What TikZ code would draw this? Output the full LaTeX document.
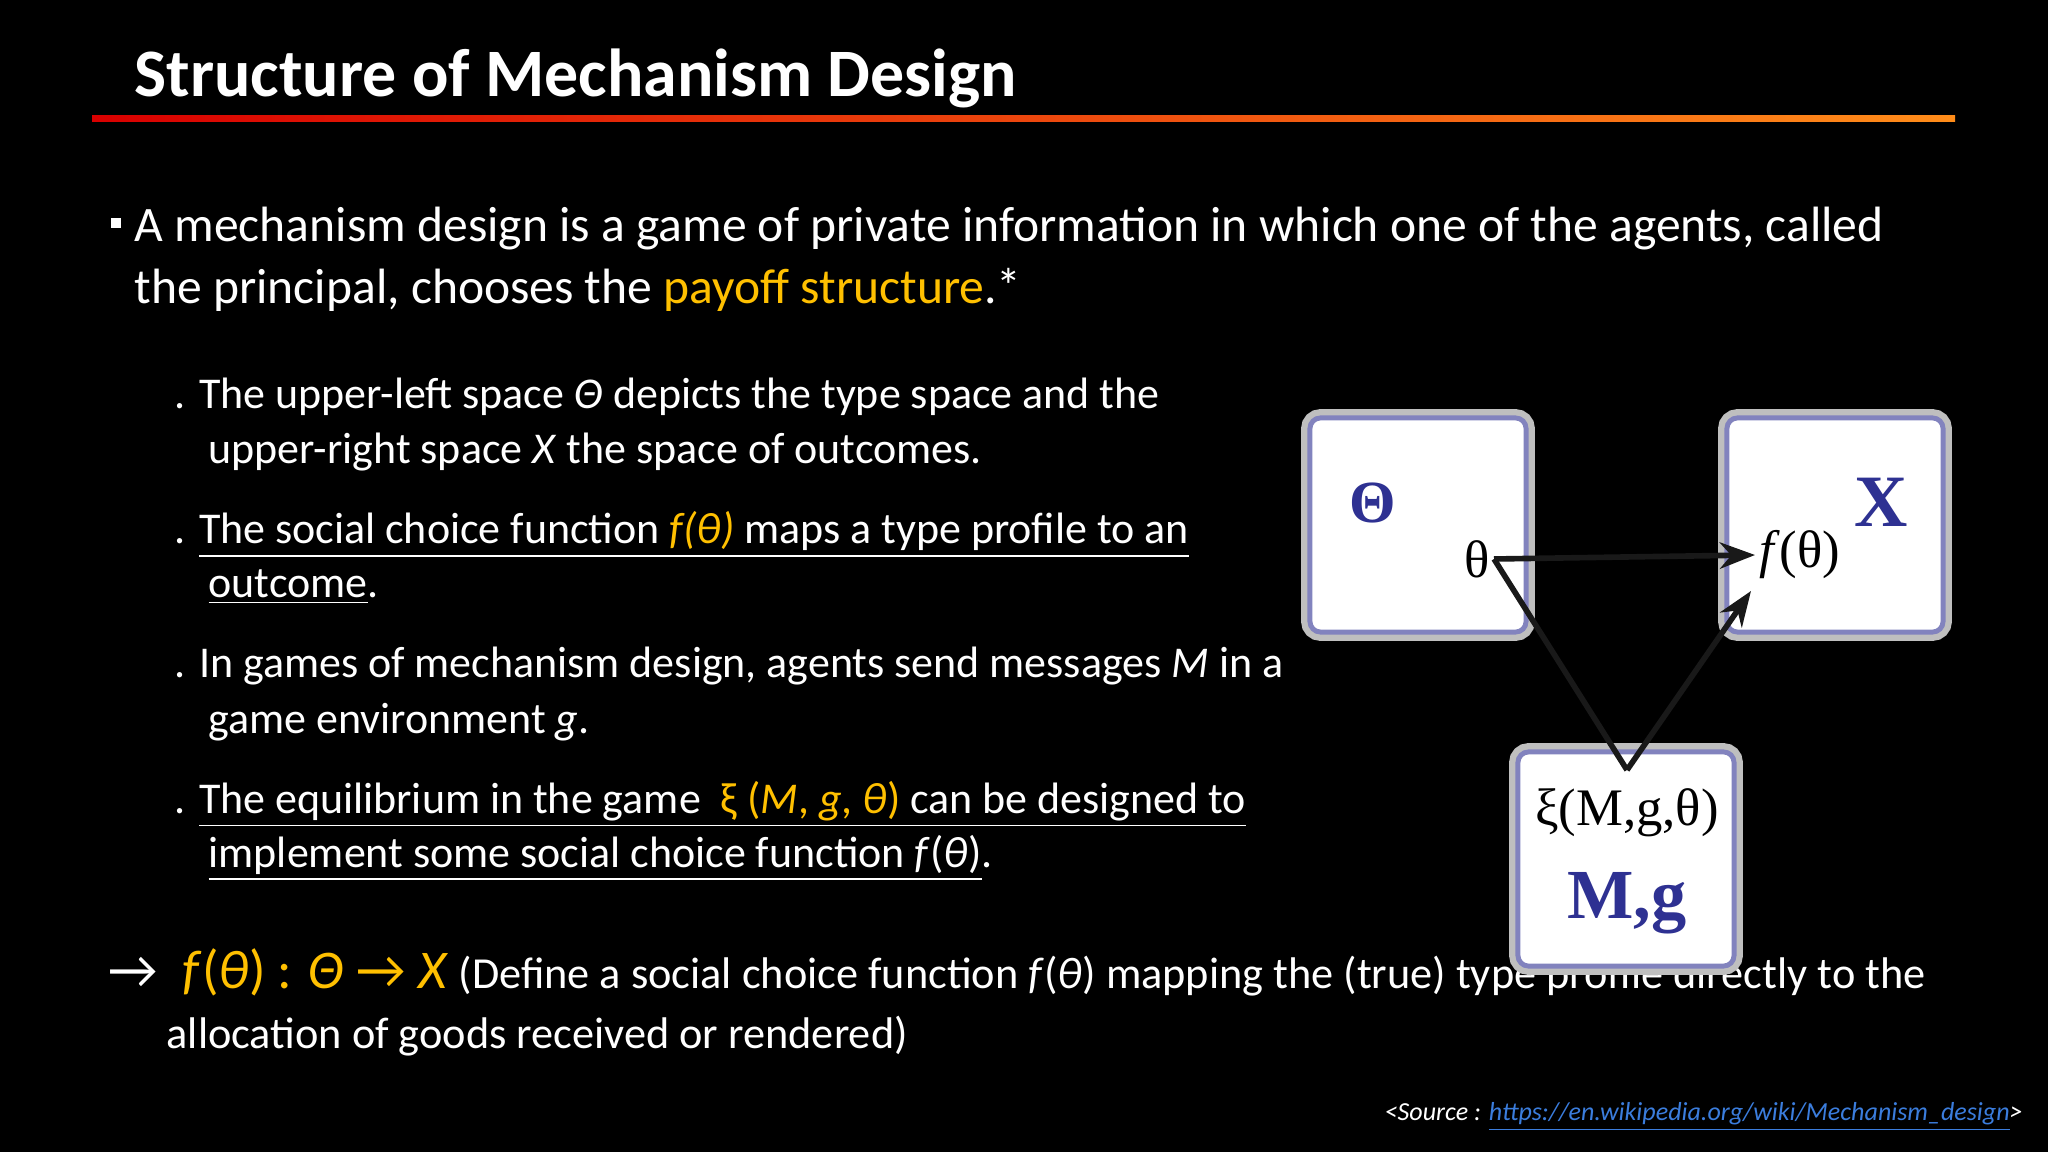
\documentclass[tikz,border=0pt]{standalone}
\usepackage{fontspec}
\setmainfont{Carlito}
\newfontfamily\diagfont{Liberation Serif}
\usetikzlibrary{arrows.meta}
\definecolor{gold}{HTML}{FFC000}
\definecolor{boxblue}{HTML}{2E3192}
\definecolor{linkblue}{HTML}{3B7DDD}
\tikzset{
  line/.style={anchor=base west, text=white, inner sep=0pt, font=\fontsize{12.5}{14}\selectfont},
  spacebox/.style={draw=boxblue!60, line width=1.4pt, fill=white, rounded corners=3pt,
    minimum width=2.16cm, minimum height=2.14cm,
    preaction={draw=gray!50, line width=5pt, rounded corners=4pt}},
  maplink/.style={draw=gray!20!black, line width=1.6pt},
}
\newcommand{\gold}[1]{\textcolor{gold}{#1}}
\begin{document}
\begin{tikzpicture}[x=0.01cm,y=-0.01cm]
  \useasboundingbox[fill=black] (0,0) rectangle (2048,1152);
  % title
  \node (title) [line, font=\fontsize{19.3}{22}\selectfont\bfseries] at (134,97) {Structure of Mechanism Design};
  \shade[left color=red!85!black, right color=orange!90] (92,116) rectangle (1955,122);
  % main bullet
  \fill[white] (111,218) rectangle (121,228);
  \node (b1) [line, font=\fontsize{14.1}{16}\selectfont] at (134,242) {A mechanism design is a game of private information in which one of the agents, called};
  \node (b2) [line, font=\fontsize{14.1}{16}\selectfont] at (134,304) {the principal, chooses the \gold{payoff structure}.*};
  % sub items
  \node (s1a) [line] at (174,409) {. The upper-left space \textit{Θ} depicts the type space and the};
  \node (s1b) [line] at (208,464) {upper-right space \textit{X} the space of outcomes.};
  \node (s2a) [line] at (174,544) {. \underline{The social choice function \gold{\textit{f(θ)}} maps a type profile to an}};
  \node (s2b) [line] at (208,597) {\underline{outcome}.};
  \node (s3a) [line] at (174,677) {. In games of mechanism design, agents send messages \textit{M} in a};
  \node (s3b) [line] at (208,733) {game environment \textit{g}.};
  \node (s4a) [line] at (174,813) {. \underline{The equilibrium in the game \ \gold{ξ (\textit{M}, \textit{g}, \textit{θ})} can be designed to}};
  \node (s4b) [line] at (208,867) {\underline{implement some social choice function \textit{f}(\textit{θ})}.};
  % conclusion
  \node (con1) [line, font=\fontsize{12.6}{15}\selectfont] at (108,988)
    {{\fontsize{15.5}{18}\selectfont → \ \gold{\textit{f}(\textit{θ}) : \textit{Θ} → \textit{X}}} (Define a social choice function \textit{f}(\textit{θ}) mapping the (true) type profile directly to the};
  \node (con2) [line, font=\fontsize{12.6}{15}\selectfont] at (166,1048) {allocation of goods received or rendered)};
  \node (src) [line, font=\fontsize{7.4}{9}\selectfont\itshape] at (1384,1120)
    {<Source : \textcolor{linkblue}{\underline{https://en.wikipedia.org/wiki/Mechanism\_design}}>};
  % diagram
  \node (theta) [spacebox] at (1418,525) {};
  \node (outc) [spacebox] at (1835,525) {};
  \node (game) [spacebox] at (1626,859) {};
  \node [font=\diagfont\bfseries\fontsize{17}{19}\selectfont, text=boxblue] at (1373,503) {Θ};
  \node [font=\diagfont\bfseries\fontsize{21}{23}\selectfont, text=boxblue] at (1881,502) {X};
  \node (th) [font=\diagfont\fontsize{15}{17}\selectfont, anchor=east, inner sep=1pt] at (1494,559) {θ};
  \node (fth) [font=\diagfont\fontsize{15}{17}\selectfont, anchor=west, inner sep=1pt] at (1755,555) {\textit{f}(θ)};
  \node (xi) [font=\diagfont\fontsize{15}{17}\selectfont] at (1627,813) {ξ(M,g,θ)};
  \node (mg) [font=\diagfont\bfseries\fontsize{20}{22}\selectfont, text=boxblue] at (1627,903) {M,g};
  \coordinate (vtx) at (1627,770);
  \draw[maplink, -{Stealth[length=10pt]}] (th.east) -- (fth.west);
  \draw[maplink] (th.east) -- (vtx);
  \draw[maplink, -{Stealth[length=10pt]}] (vtx) -- (1751,591);
\end{tikzpicture}
\end{document}
